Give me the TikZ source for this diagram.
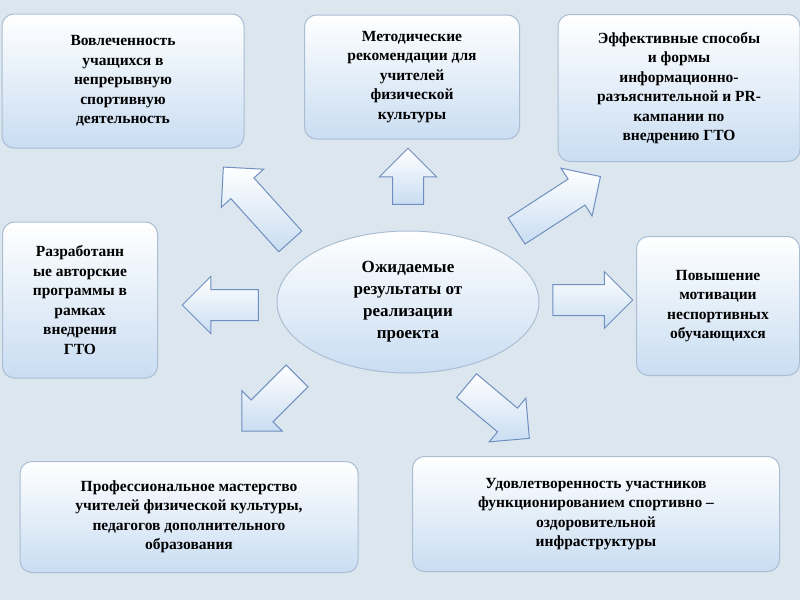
\documentclass[tikz,border=0pt]{standalone}
\usepackage{fontspec}
\setmainfont{Liberation Serif}
\usetikzlibrary{shapes.arrows,shapes.geometric,shadows}
\definecolor{bg}{HTML}{DCE6EF}
\definecolor{bx}{HTML}{C9DDF2}
\definecolor{bd}{HTML}{A9BED3}
\definecolor{ab}{HTML}{6F8FC0}
\tikzset{
 box/.style={draw=bd,line width=1pt,rounded corners=12pt,top color=white,bottom color=bx,align=center,font=\bfseries\fontsize{15.5}{19.5}\selectfont,inner sep=4pt},
 barrow/.style={single arrow,draw=ab,line width=1pt,top color=white,bottom color=bx,single arrow head extend=13pt,single arrow head indent=0pt,inner sep=0pt},
}
\newcommand{\shaft}{\rule{0pt}{30pt}}
\begin{document}
\begin{tikzpicture}[x=1pt,y=-1pt]
\fill[bg] (0,0) rectangle (800,600);
\useasboundingbox (0,0) rectangle (800,600);
\node[box,minimum width=242pt,minimum height=134pt] (b1) at (123,81) {Вовлеченность\\учащихся в\\непрерывную\\спортивную\\деятельность};
\node[box,minimum width=215pt,minimum height=124pt] (b2) at (412,77) {Методические\\рекомендации для\\учителей\\физической\\культуры};
\node[box,minimum width=242pt,minimum height=147pt] (b3) at (679,88) {Эффективные способы\\и формы\\информационно-\\разъяснительной и PR-\\кампании по\\внедрению ГТО};
\node[box,minimum width=155pt,minimum height=156pt] (b4) at (80,300) {Разработанн\\ые авторские\\программы в\\рамках\\внедрения\\ГТО};
\node[box,minimum width=163pt,minimum height=139pt] (b5) at (718,306) {Повышение\\мотивации\\неспортивных\\обучающихся};
\node[box,minimum width=338pt,minimum height=111pt] (b6) at (189,517) {Профессиональное мастерство\\учителей физической культуры,\\педагогов дополнительного\\образования};
\node[box,minimum width=367pt,minimum height=115pt] (b7) at (596,514) {Удовлетворенность участников\\функционированием спортивно –\\оздоровительной\\инфраструктуры};
\node[ellipse,draw=bd,line width=1pt,top color=white,bottom color=bx,minimum width=262pt,minimum height=142pt,align=center,font=\bfseries\fontsize{17}{22}\selectfont] (c) at (408,302) {Ожидаемые\\результаты от\\реализации\\проекта};
\node[barrow,minimum height=56pt,rotate=90] (a1) at (408,184) {\shaft};
\node[barrow,minimum height=100pt,rotate=132] (a2) at (262,210) {\shaft};
\node[barrow,minimum height=100pt,rotate=33] (a3) at (552,208) {\shaft};
\node[barrow,minimum height=76pt,rotate=180] (a4) at (228,305) {\shaft};
\node[barrow,minimum height=80pt,rotate=0] (a5) at (585,300) {\shaft};
\node[barrow,minimum height=78pt,rotate=225] (a6) at (275,398) {\shaft};
\node[barrow,minimum height=82pt,rotate=-40] (a7) at (492,407) {\shaft};
\end{tikzpicture}
\end{document}
